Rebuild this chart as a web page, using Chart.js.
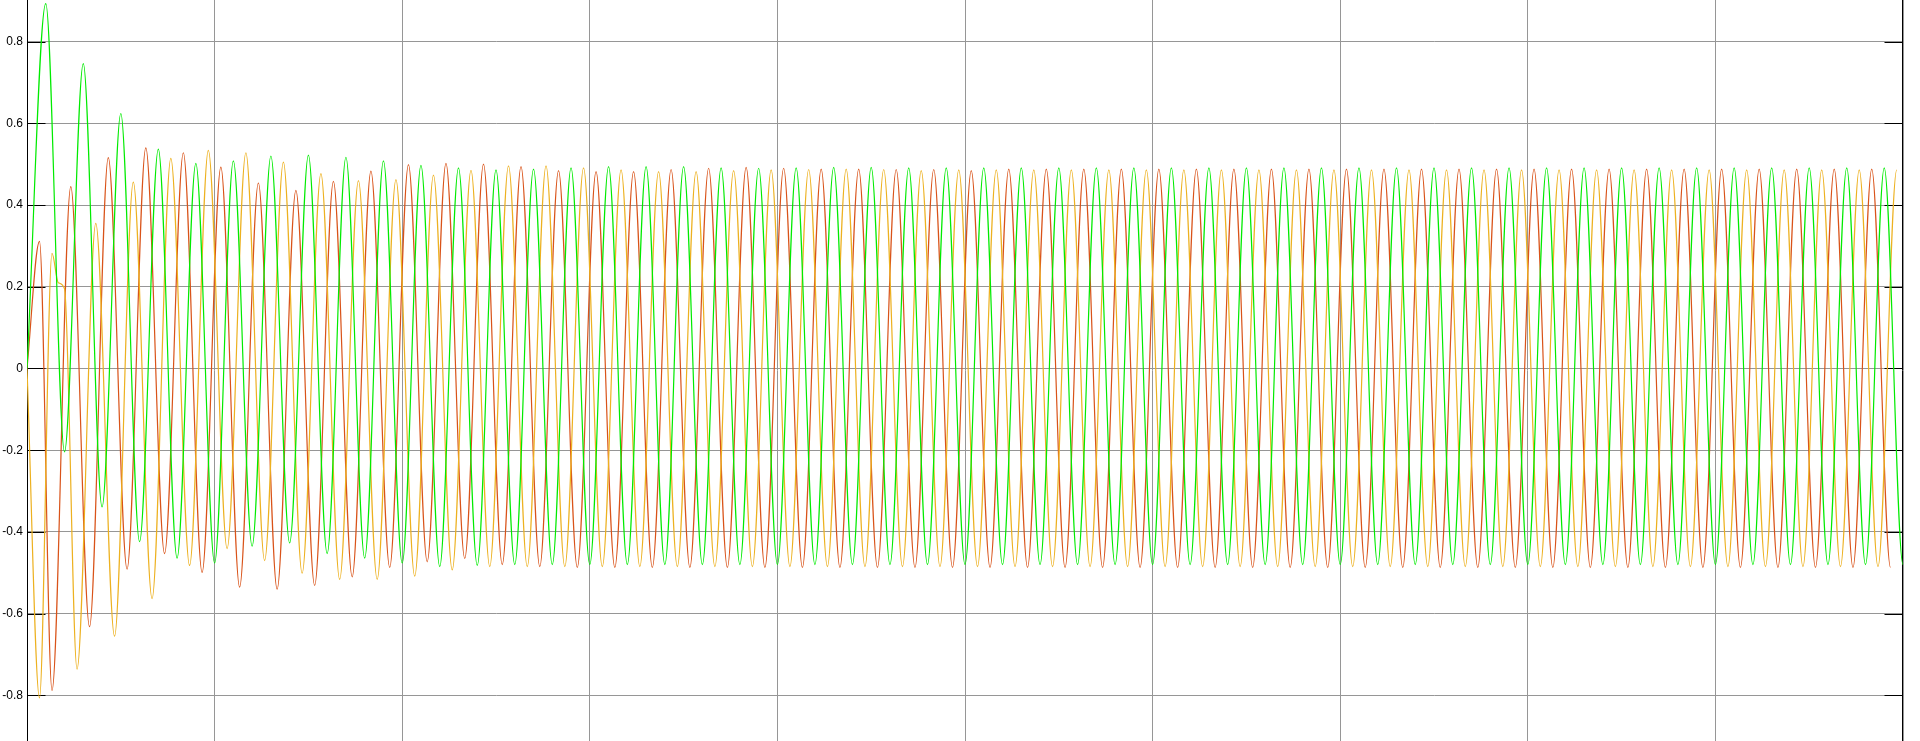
<!DOCTYPE html>
<html><head><meta charset="utf-8">
<script src="https://cdn.jsdelivr.net/npm/chart.js@4.4.1/dist/chart.umd.min.js"></script>
<style>html,body{margin:0;padding:0;background:#fff;overflow:hidden}</style>
</head><body>
<canvas id="c" width="1920" height="741"></canvas>
<script>
const _ = null;
// sample clock: 1/300 s (six samples per 20 ms cycle), 0 .. 1.01 s
const SAMPLE_COUNT = 304;
const SAMPLE_STEP = 1 / 300;
const time = Array.from({length: SAMPLE_COUNT}, (v, i) => +(i * SAMPLE_STEP).toFixed(6));

const yTicks = [-0.8, -0.6, -0.4, -0.2, 0, 0.2, 0.4, 0.6, 0.8];
const yTickLabels = ['-0.8', '-0.6', '-0.4', '-0.2', '0', '0.2', '0.4', '0.6', '0.8'];
const xGrid = [0, 0.1, 0.2, 0.3, 0.4, 0.5, 0.6, 0.7, 0.8, 0.9, 1.0];

// phase A (green): peaks / troughs
const phaseA = [0,
_,_,.893,_,_,-.204,
_,_,.746,_,_,-.339,
_,_,.624,_,_,-.424,
_,_,.537,_,_,-.464,
_,_,.502,_,_,-.476,
_,_,.508,_,_,-.435,
_,_,.520,_,_,-.427,
_,_,.522,_,_,-.453,
_,_,.517,_,_,-.464,
_,_,.508,_,_,-.476,
_,_,.497,_,_,-.485,
_,_,.491,_,_,-.482,
_,_,.486,_,_,-.480,
_,_,.488,_,_,-.480,
_,_,.491,_,_,-.480,
_,_,.494,_,_,-.480,
_,_,.494,_,_,-.480,
_,_,.494,_,_,-.480,
_,_,.491,_,_,-.480,
_,_,.490,_,_,-.480,
_,_,.491,_,_,-.480,
_,_,.492,_,_,-.480,
_,_,.492,_,_,-.480,
_,_,.491,_,_,-.480,
_,_,.491,_,_,-.480,
_,_,.491,_,_,-.480,
_,_,.491,_,_,-.480,
_,_,.491,_,_,-.480,
_,_,.491,_,_,-.480,
_,_,.491,_,_,-.480,
_,_,.491,_,_,-.480,
_,_,.491,_,_,-.480,
_,_,.491,_,_,-.480,
_,_,.491,_,_,-.480,
_,_,.491,_,_,-.480,
_,_,.491,_,_,-.480,
_,_,.491,_,_,-.480,
_,_,.491,_,_,-.480,
_,_,.491,_,_,-.480,
_,_,.491,_,_,-.480,
_,_,.491,_,_,-.480,
_,_,.491,_,_,-.480,
_,_,.491,_,_,-.480,
_,_,.491,_,_,-.480,
_,_,.491,_,_,-.480,
_,_,.491,_,_,-.480,
_,_,.491,_,_,-.480,
_,_,.491,_,_,-.480,
_,_,.491,_,_,-.480,
_,_,.491,_,_,-.480,
_,_,.491];

// phase B (yellow)
const phaseB = [0,
_,-.806,_,.282,.210,.195,
_,-.736,_,_,.355,_,
_,-.655,_,_,.456,_,
_,-.563,_,_,.514,_,
_,-.482,_,_,.534,_,
_,-.441,_,_,.528,_,
_,-.470,_,_,.505,_,
_,-.501,_,_,.477,_,
_,-.516,_,_,.460,_,
_,-.516,_,_,.462,_,
_,-.508,_,_,.473,_,
_,-.493,_,_,.485,_,
_,-.485,_,_,.496,_,
_,-.485,_,_,.496,_,
_,-.485,_,_,.491,_,
_,-.485,_,_,.486,_,
_,-.485,_,_,.482,_,
_,-.485,_,_,.482,_,
_,-.485,_,_,.484,_,
_,-.485,_,_,.486,_,
_,-.485,_,_,.487,_,
_,-.485,_,_,.488,_,
_,-.485,_,_,.487,_,
_,-.485,_,_,.484,_,
_,-.485,_,_,.486,_,
_,-.485,_,_,.486,_,
_,-.485,_,_,.486,_,
_,-.485,_,_,.486,_,
_,-.485,_,_,.486,_,
_,-.485,_,_,.486,_,
_,-.485,_,_,.486,_,
_,-.485,_,_,.486,_,
_,-.485,_,_,.486,_,
_,-.485,_,_,.486,_,
_,-.485,_,_,.486,_,
_,-.485,_,_,.486,_,
_,-.485,_,_,.486,_,
_,-.485,_,_,.486,_,
_,-.485,_,_,.486,_,
_,-.485,_,_,.486,_,
_,-.485,_,_,.486,_,
_,-.485,_,_,.486,_,
_,-.485,_,_,.486,_,
_,-.485,_,_,.486,_,
_,-.485,_,_,.486,_,
_,-.485,_,_,.486,_,
_,-.485,_,_,.486,_,
_,-.485,_,_,.486,_,
_,-.485,_,_,.486,_,
_,-.485,_,_,.486,_,
_,-.485,_];

// phase C (red)
const phaseC = [0,
_,.311,_,-.788,_,_,
.445,_,_,-.632,_,_,
.516,_,_,-.491,_,_,
.540,_,_,-.453,_,_,
.528,_,_,-.499,_,_,
.493,_,_,-.535,_,_,
.454,_,_,-.540,_,_,
.436,_,_,-.531,_,_,
.458,_,_,-.510,_,_,
.483,_,_,-.487,_,_,
.499,_,_,-.473,_,_,
.502,_,_,-.465,_,_,
.500,_,_,-.480,_,_,
.494,_,_,-.485,_,_,
.484,_,_,-.487,_,_,
.482,_,_,-.487,_,_,
.482,_,_,-.487,_,_,
.487,_,_,-.487,_,_,
.490,_,_,-.487,_,_,
.492,_,_,-.487,_,_,
.490,_,_,-.487,_,_,
.488,_,_,-.487,_,_,
.488,_,_,-.487,_,_,
.487,_,_,-.487,_,_,
.487,_,_,-.487,_,_,
.484,_,_,-.487,_,_,
.488,_,_,-.487,_,_,
.488,_,_,-.487,_,_,
.488,_,_,-.487,_,_,
.488,_,_,-.487,_,_,
.488,_,_,-.487,_,_,
.488,_,_,-.487,_,_,
.488,_,_,-.487,_,_,
.488,_,_,-.487,_,_,
.488,_,_,-.487,_,_,
.488,_,_,-.487,_,_,
.488,_,_,-.487,_,_,
.488,_,_,-.487,_,_,
.488,_,_,-.487,_,_,
.488,_,_,-.487,_,_,
.488,_,_,-.487,_,_,
.488,_,_,-.487,_,_,
.488,_,_,-.487,_,_,
.488,_,_,-.487,_,_,
.488,_,_,-.487,_,_,
.488,_,_,-.487,_,_,
.488,_,_,-.487,_,_,
.488,_,_,-.487,_,_,
.488,_,_,-.487,_,_,
.488,_,_,-.487,_,_,
.488,_,_];

const frame = {
  id: 'frame',
  beforeDatasetsDraw(chart) {
    const {ctx, chartArea: a, scales: {y}} = chart;
    const L = Math.round(a.left) + 0.5, R = Math.round(a.right) - 0.5;
    ctx.save();
    ctx.strokeStyle = '#000';
    ctx.lineWidth = 1;
    ctx.beginPath();
    ctx.moveTo(R, a.top); ctx.lineTo(R, a.bottom);
    yTicks.forEach(v => {
      const py = Math.round(y.getPixelForValue(v)) + 0.5;
      ctx.moveTo(L, py); ctx.lineTo(L + 18, py);
      ctx.moveTo(R - 18, py); ctx.lineTo(R, py);
    });
    ctx.stroke();
    ctx.restore();
  }
};

const lineStyle = {pointRadius: 0, borderWidth: 1.2, cubicInterpolationMode: 'monotone', spanGaps: true, fill: false};

new Chart(document.getElementById('c'), {
  type: 'line',
  data: {
    labels: time,
    datasets: [
      Object.assign({label: 'A', data: phaseA, borderColor: 'rgb(0,235,0)'}, lineStyle),
      Object.assign({label: 'B', data: phaseB, borderColor: 'rgb(237,177,32)'}, lineStyle),
      Object.assign({label: 'C', data: phaseC, borderColor: 'rgb(217,83,25)'}, lineStyle)
    ]
  },
  options: {
    responsive: false,
    animation: false,
    devicePixelRatio: 1,
    layout: {padding: {left: 0, right: 17, top: 0, bottom: 0}},
    plugins: {legend: {display: false}, tooltip: {enabled: false}},
    scales: {
      x: {
        type: 'linear', min: 0, max: 1,
        afterBuildTicks: s => { s.ticks = xGrid.map(v => ({value: v})); },
        ticks: {display: false},
        grid: {color: '#969696', lineWidth: 1, drawTicks: false},
        border: {display: false}
      },
      y: {
        type: 'linear', min: -0.9116, max: 0.9018,
        afterBuildTicks: s => { s.ticks = yTicks.map(v => ({value: v})); },
        ticks: {callback: (v, i) => yTickLabels[i], color: '#000', font: {family: 'Arial', size: 12}, padding: 4},
        grid: {color: '#969696', lineWidth: 1, drawTicks: false},
        border: {color: '#000', width: 1},
        afterFit: s => { s.width = 27; s.paddingTop = 0; s.paddingBottom = 0; }
      }
    }
  },
  plugins: [frame]
});
</script>
</body></html>
